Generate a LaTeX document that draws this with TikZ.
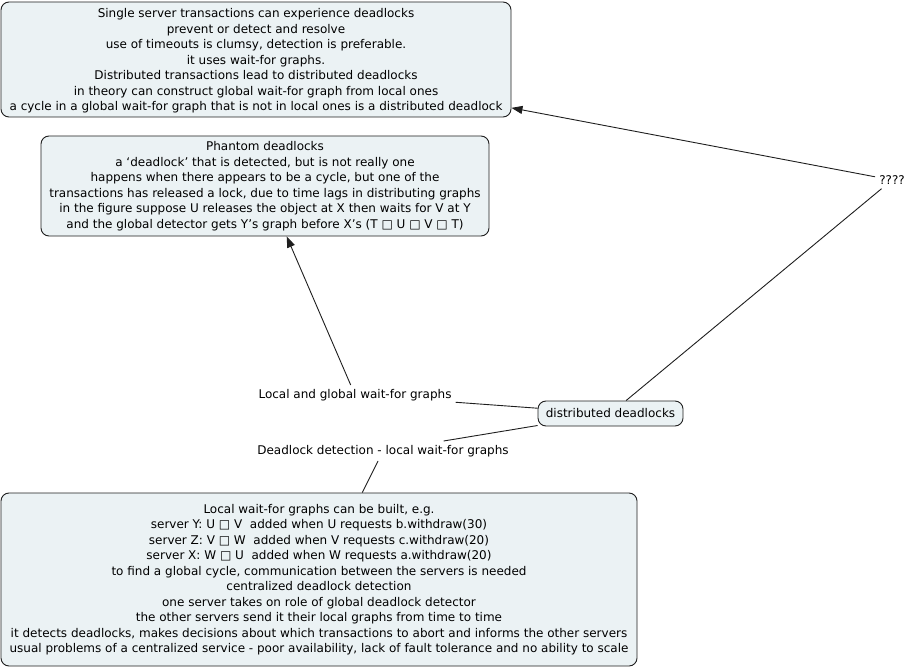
\documentclass[tikz,border=0pt]{standalone}
\usepackage{fontspec}
\setmainfont{DejaVu Sans}
\usetikzlibrary{arrows.meta}
\definecolor{boxfill}{RGB}{235,242,244}
\definecolor{edgecol}{RGB}{30,30,30}
\begin{document}
\begin{tikzpicture}[x=1pt,y=-1pt,
  txt/.style={font=\fontsize{12}{15.5}\selectfont},
  box/.style={txt, draw=edgecol, fill=boxfill, rounded corners=8pt, line width=0.9pt, align=center, inner sep=0pt},
  lbl/.style={txt, align=center, inner sep=4pt},
  conn/.style={draw=edgecol, line width=0.9pt},
  arr/.style={conn, -{Triangle[length=11pt,width=8pt]}}]
\useasboundingbox (0,0) rectangle (909,668);

\node[box, minimum width=510pt, minimum height=115pt] (b1) at (256,59.5) {\rule{0pt}{4pt}\\[-8pt]Single server transactions can experience deadlocks\\
prevent or detect and resolve\\
use of timeouts is clumsy, detection is preferable.\\
it uses wait-for graphs.\\
Distributed transactions lead to distributed deadlocks\\
in theory can construct global wait-for graph from local ones\\
a cycle in a global wait-for graph that is not in local ones is a distributed deadlock};

\node[box, minimum width=448pt, minimum height=100pt] (b2) at (265,186) {Phantom deadlocks\\
a ‘deadlock’ that is detected, but is not really one\\
happens when there appears to be a cycle, but one of the\\
transactions has released a lock, due to time lags in distributing graphs\\
in the figure suppose U releases the object at X then waits for V at Y\\
and the global detector gets Y’s graph before X’s (T □ U □ V □ T)};

\node[box, minimum width=636pt, minimum height=173pt] (b3) at (319,579.5) {Local wait-for graphs can be built, e.g.\\
server Y: U □ V\ \ added when U requests b.withdraw(30)\\
server Z: V □ W\ \ added when V requests c.withdraw(20)\\
server X: W □ U\ \ added when W requests a.withdraw(20)\\
to find a global cycle, communication between the servers is needed\\
centralized deadlock detection\\
one server takes on role of global deadlock detector\\
the other servers send it their local graphs from time to time\\
it detects deadlocks, makes decisions about which transactions to abort and informs the other servers\\
usual problems of a centralized service - poor availability, lack of fault tolerance and no ability to scale};

\node[box, minimum width=145pt, minimum height=25pt] (dd) at (610.5,413.5) {distributed deadlocks};

\node[lbl] (q) at (892,180) {????};
\node[lbl] (l1) at (355,395) {Local and global wait-for graphs};
\node[lbl] (l2) at (383,451) {Deadlock detection - local wait-for graphs};

\draw[conn] (dd) -- (q);
\draw[arr] (q) -- (b1);
\draw[conn] (dd) -- (l1);
\draw[arr] (l1) -- (b2);
\draw[conn] (dd) -- (l2);
\draw[conn] (l2) -- (b3);
\end{tikzpicture}
\end{document}
